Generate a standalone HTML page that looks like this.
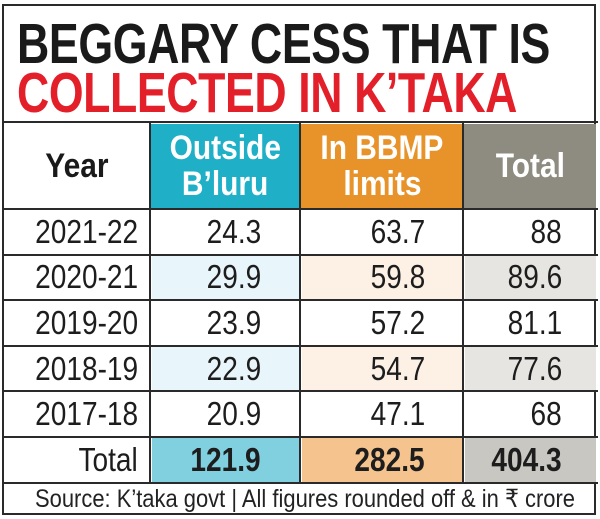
<!DOCTYPE html>
<html><head><meta charset="utf-8">
<style>
html,body{margin:0;padding:0;background:#fff;}
#wrap{position:relative;width:600px;height:519px;overflow:hidden;background:#fff;font-family:"Liberation Sans",sans-serif;}
.abs{position:absolute;}
.title{position:absolute;left:17px;font-weight:bold;font-size:57px;line-height:57px;white-space:nowrap;transform-origin:0 0;letter-spacing:-0.5px;}
.hl{position:absolute;height:2px;background:#2a2a2a;}
.vl{position:absolute;width:2px;background:#2a2a2a;}
.cell{position:absolute;font-size:33px;color:#1d1d1d;white-space:nowrap;transform:scaleX(0.85);transform-origin:100% 50%;}
.hdr{position:absolute;color:#fff;font-weight:bold;font-size:34px;line-height:36px;text-align:center;}
.hdr span{display:inline-block;transform:scaleX(0.88);transform-origin:50% 50%;white-space:nowrap;}
</style></head>
<body>
<div id="wrap">
  <div class="abs" style="left:2px;top:4px;width:594px;height:511px;border:2px solid #2a2a2a;box-sizing:border-box;"></div>
  <div class="title" id="t1" style="top:16px;color:#1a1a1a;">BEGGARY CESS THAT IS</div>
  <div class="title" id="t2" style="top:65px;color:#e3202a;">COLLECTED IN K’TAKA</div>

  <div class="abs" style="left:151px;top:124px;width:149px;height:85px;background:#1fb0c8;"></div>
  <div class="abs" style="left:301px;top:124px;width:162px;height:85px;background:#e8922a;"></div>
  <div class="abs" style="left:464px;top:124px;width:132px;height:85px;background:#8e8c80;"></div>
  <div class="hdr" style="left:4px;width:146px;top:148px;color:#1a1a1a;"><span>Year</span></div>
  <div class="hdr" style="left:151px;width:149px;top:130px;"><span>Outside</span><br><span>B’luru</span></div>
  <div class="hdr" style="left:301px;width:162px;top:130px;"><span>In BBMP</span><br><span>limits</span></div>
  <div class="hdr" style="left:464px;width:132px;top:148px;"><span>Total</span></div>
</div>
<script>
const years = ["2021-22","2020-21","2019-20","2018-19","2017-18"];
const outside = [24.3, 29.9, 23.9, 22.9, 20.9];
const bbmp = [63.7, 59.8, 57.2, 54.7, 47.1];
const totals = [88, 89.6, 81.1, 77.6, 68];
const grandTotals = ["121.9","282.5","404.3"];
const footnote = "Source: K’taka govt | All figures rounded off & in ₹ crore";

const wrap = document.getElementById('wrap');
const rowTop = 209, rowH = 45.6;
const cols = [[4,150],[151,300],[301,463],[464,596]];
const rightEdge = [138, 261, 425, 562];
const tints = [null,"#e8f5fb","#fdf1e6","#e6e5e2"];
const totalTints = [null,"#80d0e0","#f5c48e","#c9c7c1"];

function fmt(v){ return String(v); }
function addCell(text, col, top, h, bold, name){
  const d = document.createElement('div');
  
  
  d.className = 'cell';
  d.textContent = text;
  d.style.top = (top + h/2 - 19) + 'px';
  d.style.right = (600 - rightEdge[col]) + 'px';
  if (bold) { d.style.fontWeight = 'bold'; }
  wrap.appendChild(d);
}
function addBg(col, top, h, color, name){
  const b = document.createElement('div');
  
  
  b.className = 'abs';
  b.style.left = (cols[col][0]+1) + 'px';
  b.style.width = (cols[col][1]-cols[col][0]-1) + 'px';
  b.style.top = top + 'px';
  b.style.height = h + 'px';
  b.style.background = color;
  wrap.appendChild(b);
}
years.forEach((y,i)=>{
  const top = rowTop + i*rowH;
  if (i % 2 === 1) {
    for (let c=1;c<4;c++) addBg(c, top, rowH, tints[c], 'row-tint');
  }
  addCell(y, 0, top, rowH, false, 'year-cell');
  addCell(fmt(outside[i]), 1, top, rowH, false, 'outside-value');
  addCell(fmt(bbmp[i]), 2, top, rowH, false, 'bbmp-value');
  addCell(fmt(totals[i]), 3, top, rowH, false, 'total-value');
});
const tTop = rowTop + years.length*rowH;
const tH = 483 - tTop;
for (let c=1;c<4;c++) addBg(c, tTop, tH, totalTints[c], 'total-row-bg');
addCell("Total", 0, tTop, tH, false, 'total-row-label');
grandTotals.forEach((g,i)=> addCell(g, i+1, tTop, tH, true, 'grand-total-value'));

const hys = [122, 209];
for (let i=1;i<=years.length;i++) hys.push(rowTop + i*rowH);
hys.push(483);
hys.forEach(y=>{
  const l = document.createElement('div');
  
  
  l.className = 'hl';
  l.style.left = '2px'; l.style.width = '596px';
  l.style.top = (Math.round(y)-1) + 'px';
  wrap.appendChild(l);
});
[150,300,463].forEach(x=>{
  const l = document.createElement('div');
  
  
  l.className = 'vl';
  l.style.left = (x-1) + 'px';
  l.style.top = '122px'; l.style.height = '362px';
  wrap.appendChild(l);
});
const f = document.createElement('div');


f.className = 'abs';
f.textContent = footnote;
f.style.left = '35px'; f.style.whiteSpace = 'nowrap';
f.style.top = '484px'; f.style.fontSize = '25px'; f.style.color = '#222';
f.style.transformOrigin = '0 0';
wrap.appendChild(f);
const fw = f.getBoundingClientRect().width;
f.style.transform = 'scaleX(' + (540/fw) + ')';

[['t1',533],['t2',500]].forEach(([id,w])=>{
  const el = document.getElementById(id);
  const cw = el.getBoundingClientRect().width;
  el.style.transform = 'scaleX(' + (w/cw) + ')';
});
</script>
</body></html>
